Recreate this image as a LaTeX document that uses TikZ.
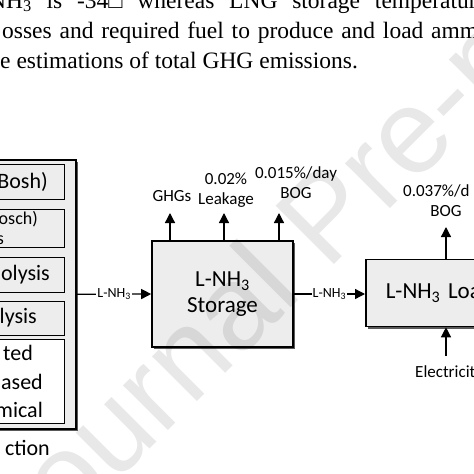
\documentclass[tikz,border=0pt]{standalone}
\usepackage{fontspec}
\setmainfont{Carlito}
\newfontfamily\paperfont{Liberation Serif}
\newfontfamily\markfont{Liberation Sans}
\usepackage{tikz}
\usetikzlibrary{arrows.meta,positioning,shadows,calc}
\tikzset{
    >={Triangle[length=10pt,width=10pt]},
    procbox/.style={
        rectangle,
        draw=black, line width=1.6pt,
        fill=black!7,
        drop shadow={shadow xshift=2.2pt, shadow yshift=-2.2pt, fill=black!65, opacity=1},
        align=center,
        font={\fontsize{23pt}{26pt}\selectfont}
    },
    subbox/.style={
        rectangle,
        draw=black, line width=1.2pt,
        fill=black!7
    },
    subtext/.style={anchor=east, inner sep=0pt, font={\fontsize{22pt}{26pt}\selectfont}},
    flow/.style={draw, line width=1.3pt, ->},
    flowlabel/.style={fill=white, inner sep=1pt, font={\fontsize{14pt}{16pt}\selectfont}},
    outlabel/.style={align=center, inner sep=0pt, font={\fontsize{17pt}{20pt}\selectfont}},
    paperline/.style={anchor=base west, inner sep=0pt, font={\paperfont\fontsize{23.5pt}{30pt}\selectfont}},
    watermark/.style={rotate=45, anchor=base, inner sep=0pt, text=black, text opacity=0.09,
        font={\markfont\fontsize{120pt}{120pt}\selectfont}},
}
\begin{document}
\begin{tikzpicture}[x=1pt, y=-1pt]
\useasboundingbox (0,0) rectangle (474,474);
\clip (0,0) rectangle (474,474);

% running text above the figure
\node[paperline] (pline1) at (-11,8) {\makebox[498pt][s]{NH\textsubscript{3} is -34□ whereas LNG storage temperature}};
\node[paperline] (pline2) at (2,38) {\makebox[476pt][s]{osses and required fuel to produce and load amm}};
\node[paperline] (pline3) at (0,68) {e estimations of total GHG emissions.};

% production routes
\node[procbox, anchor=north east, minimum width=180pt, minimum height=269pt] (prod) at (77,159) {};
\node[subbox, anchor=north east, minimum width=160pt, minimum height=35pt] (route1) at (65,164) {};
\node[subbox, anchor=north east, minimum width=160pt, minimum height=38pt] (route2) at (65,209) {};
\node[subbox, anchor=north east, minimum width=160pt, minimum height=35pt] (route3) at (65,257) {};
\node[subbox, anchor=north east, minimum width=160pt, minimum height=34pt] (route4) at (65,301) {};
\node[subbox, anchor=north east, minimum width=160pt, minimum height=84pt, fill=white] (route5) at (65,339) {};
\node[subtext] (route1txt) at (48,182) {Bosh)};
\node[subtext, font={\fontsize{18pt}{22pt}\selectfont}] (route2txta) at (38,219) {osch)};
\node[subtext, font={\fontsize{18pt}{22pt}\selectfont}] (route2txtb) at (4,240) {s};
\node[subtext] (route3txt) at (50,275) {olysis};
\node[subtext] (route4txt) at (37,318) {lysis};
\node[subtext] (route5txta) at (33,353) {ted};
\node[subtext] (route5txtb) at (43,382) {ased};
\node[subtext] (route5txtc) at (43,410) {mical};
\node[subtext] (prodtxt) at (50,448) {ction};

% storage
\node[procbox, minimum width=141pt, minimum height=106pt] (storage) at (222.5,294) {L-NH\textsubscript{3}\\Storage};
\draw[flow] (prod.east) -- node[flowlabel] (flowin) {L-NH\textsubscript{3}} (storage.west);

\coordinate (ghgtip) at (170,213);
\coordinate (leaktip) at (224,213);
\coordinate (bogtip) at (279,213);
\draw[flow] (storage.north -| ghgtip) -- (ghgtip);
\draw[flow] (storage.north -| leaktip) -- (leaktip);
\draw[flow] (storage.north -| bogtip) -- (bogtip);
\node[outlabel] (ghgs) at (172,196) {GHGs};
\node[outlabel] (leak) at (226,190) {0.02\%\\Leakage};
\node[outlabel] (bog) at (296,183) {0.015\%/day\\BOG};

% loading
\node[procbox, anchor=west, minimum width=220pt, minimum height=67pt, text width=180pt,
      align=left, inner xsep=20pt] (load) at (365,293) {L-NH\textsubscript{3} Loa};
\draw[flow] (storage.east) -- node[flowlabel] (flowout) {L-NH\textsubscript{3}} (load.west |- storage.east);

\coordinate (loadbogtip) at (446,227);
\coordinate (elecsrc) at (446,356);
\draw[flow] (load.north -| loadbogtip) -- (loadbogtip);
\draw[flow] (elecsrc) -- (load.south -| elecsrc);
\node[outlabel, anchor=west] (loadbogrt) at (403,191) {0.037\%/d};
\node[outlabel] (loadbog) at (446,211) {BOG};
\node[outlabel, anchor=west] (elec) at (415,372) {Electricit};

% journal watermark
\node[watermark] (wmark) at (354,245) {Journal Pre-proof};
\end{tikzpicture}
\end{document}
